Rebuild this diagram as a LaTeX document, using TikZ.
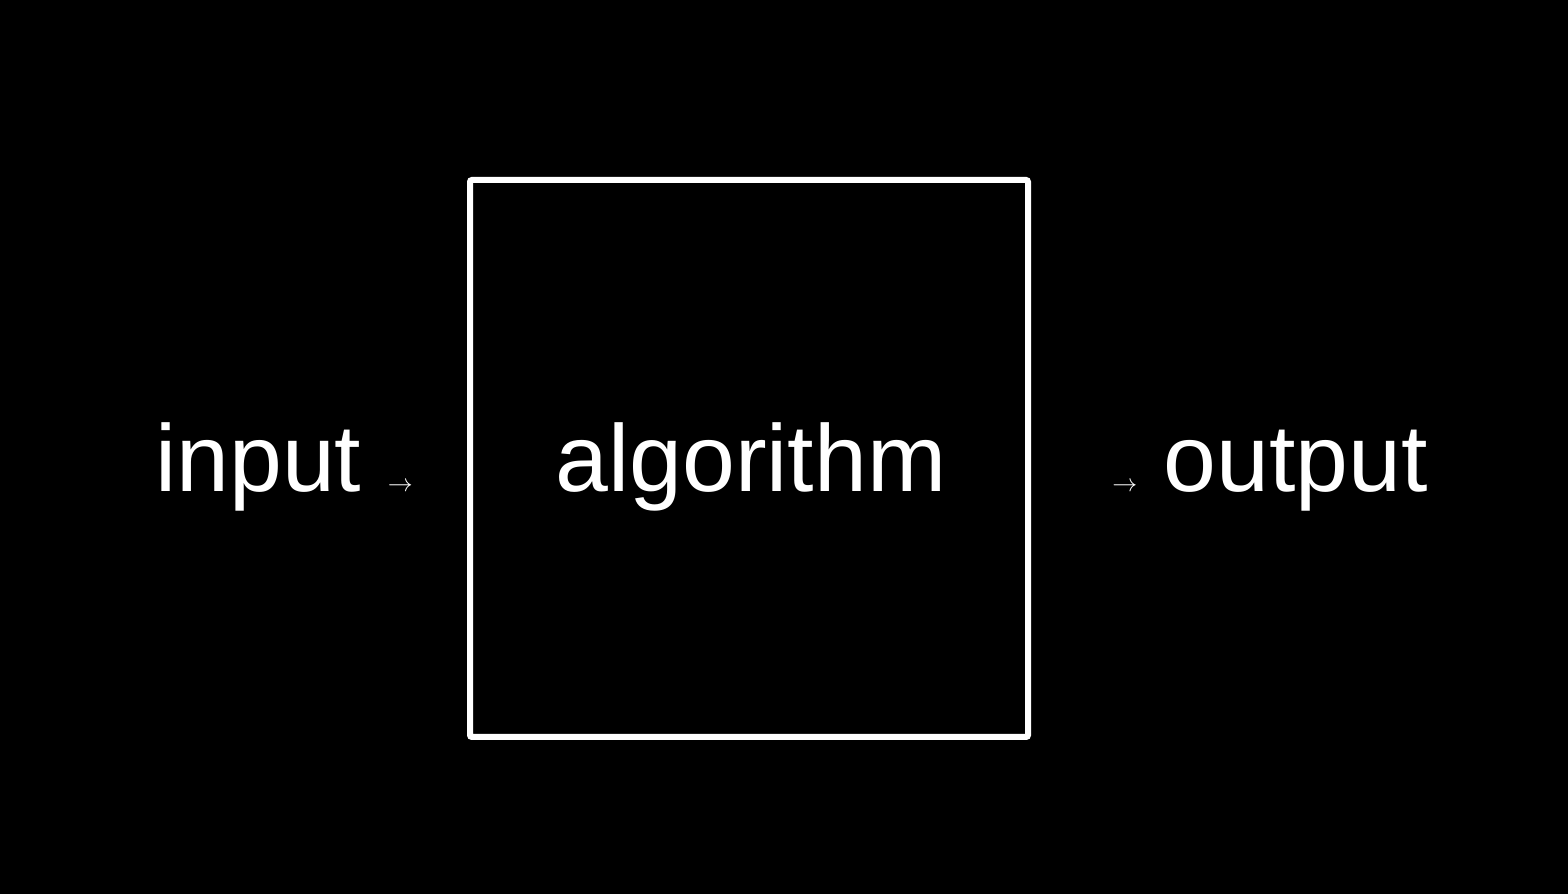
\documentclass[tikz,border=0pt]{standalone}
\usepackage{fontspec}
\setmainfont{Liberation Sans}
\begin{document}
\begin{tikzpicture}[x=1pt,y=1pt,
  lbl/.style={text=white,font=\fontsize{95}{100}\selectfont,inner sep=0pt,anchor=base},
  algbox/.style={draw=white,line width=6pt,rounded corners=2pt,minimum width=558pt,minimum height=557pt,inner sep=0pt}]
\fill[black] (0,0) rectangle (1568,894);
\useasboundingbox (0,0) rectangle (1568,894);
\node[algbox] (box) at (749,435.5) {};
\node[lbl] (alg) at (751,402) {algorithm};
\node[lbl] (in) at (284,402) {input $\rightarrow$};
\node[lbl] (out) at (1270,402) {$\rightarrow$ output};
\end{tikzpicture}
\end{document}
